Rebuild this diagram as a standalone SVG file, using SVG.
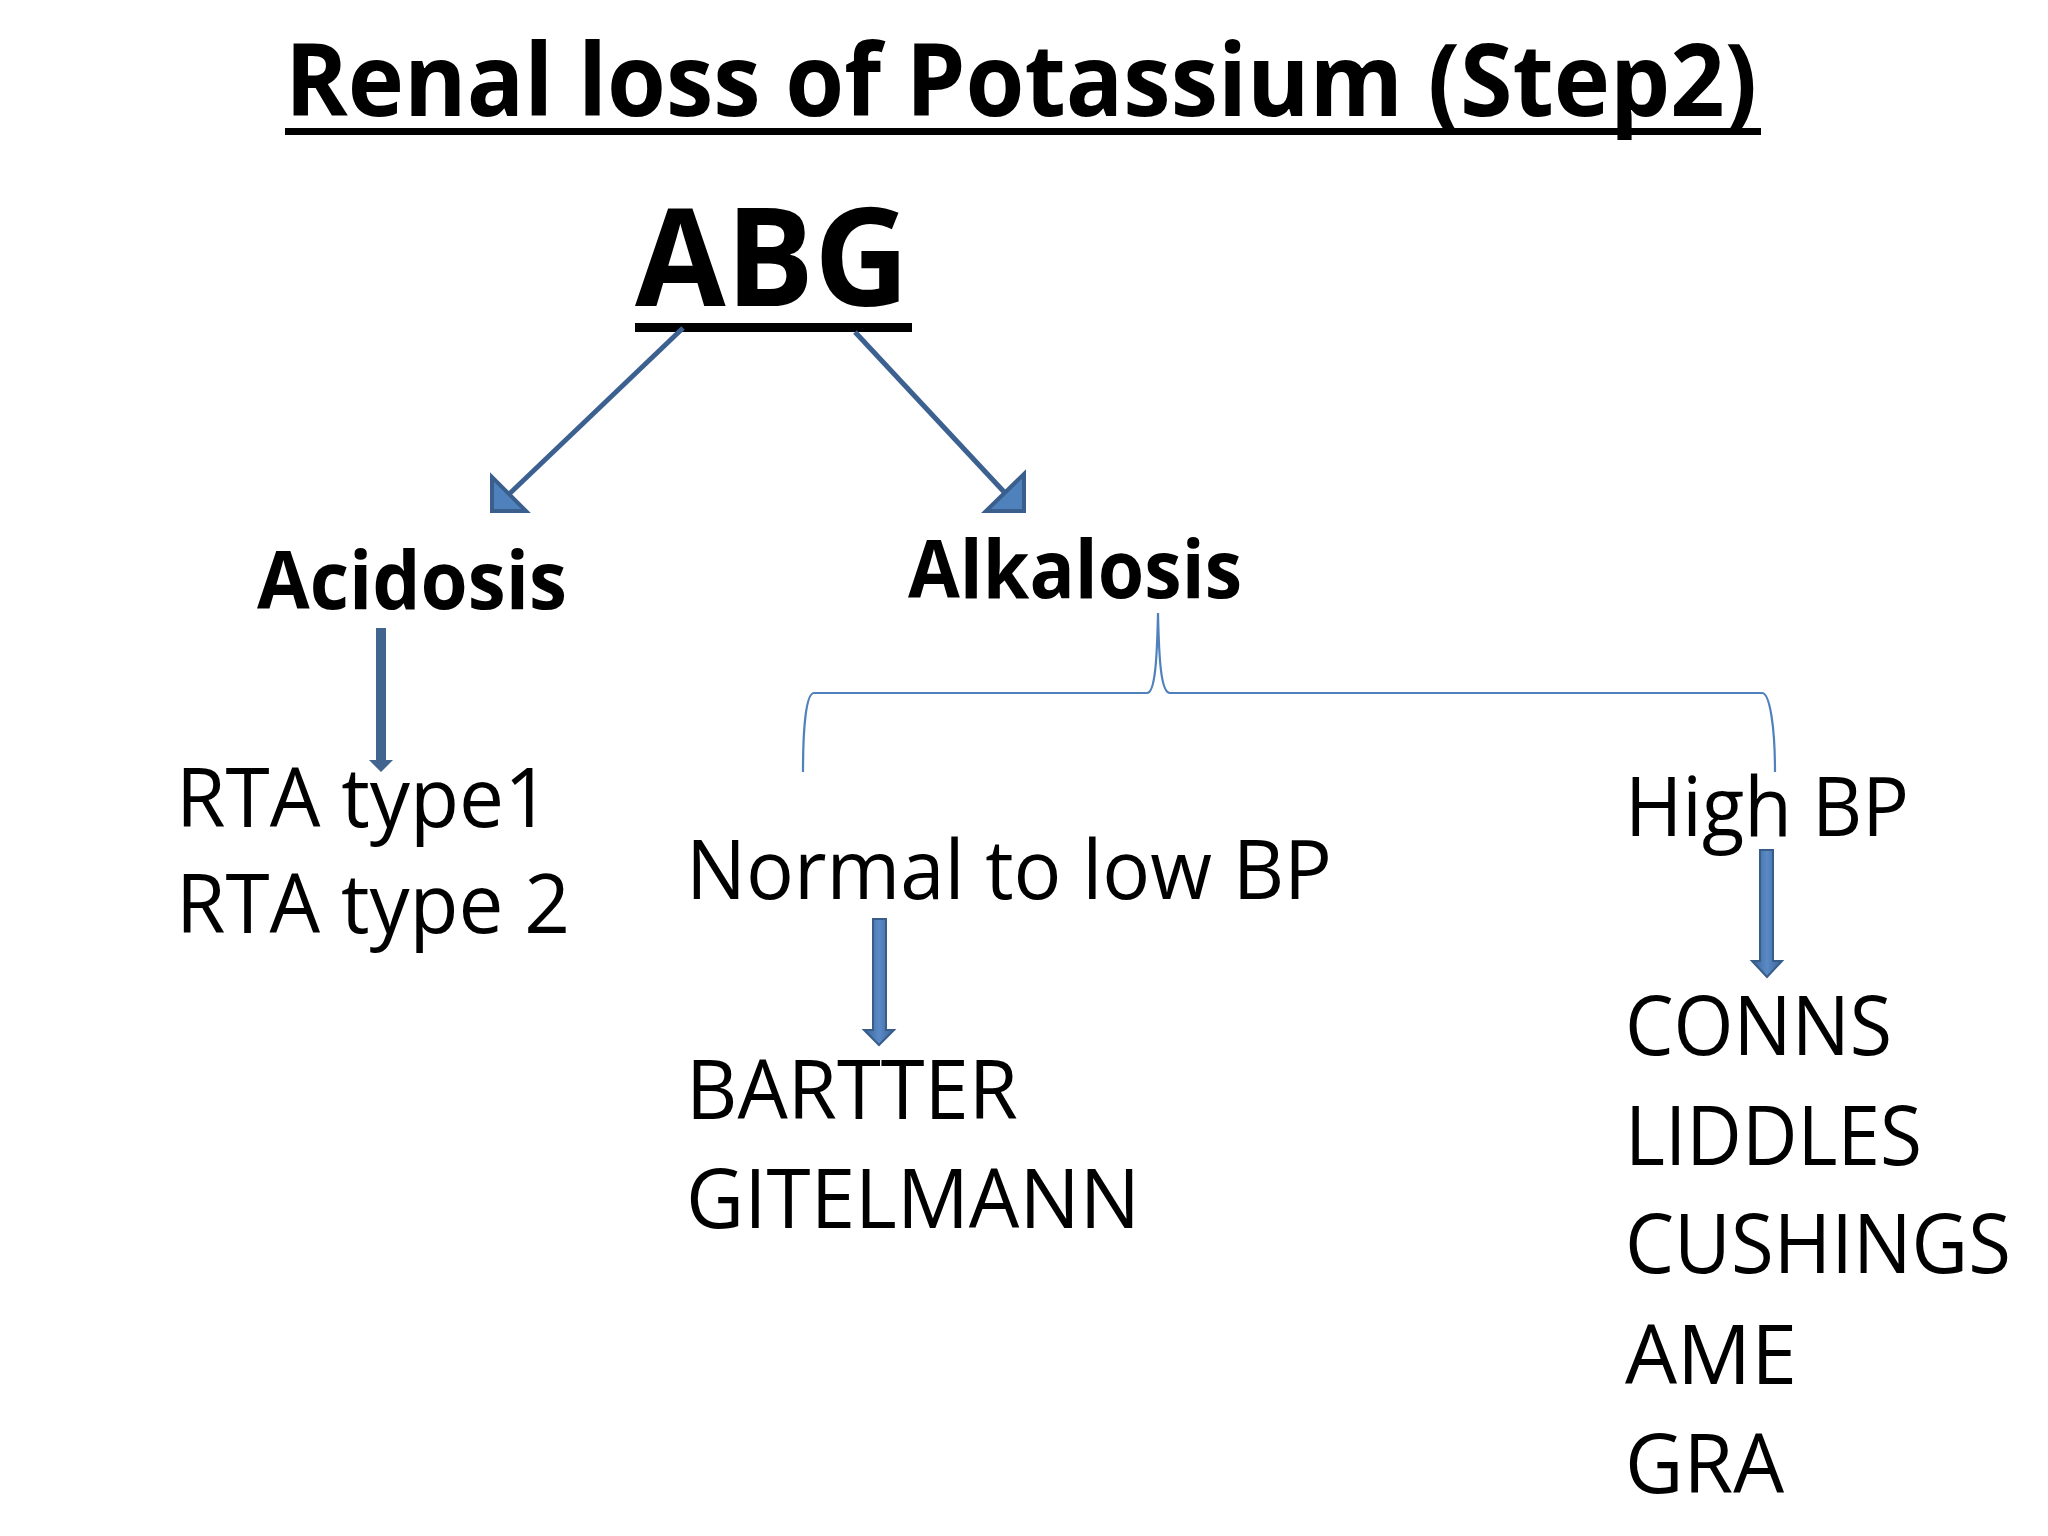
<svg xmlns="http://www.w3.org/2000/svg" width="2048" height="1536" viewBox="0 0 2048 1536">
<style>
text{font-family:"Open Sans","Noto Sans","Liberation Sans",sans-serif;fill:#000}
.b{font-weight:bold}
.r{font-size:82px}
.line{stroke:#3C6190;stroke-width:5;fill:none}
.head{fill:#4F81BD;stroke:#3A5F8C;stroke-width:4;stroke-linejoin:miter}
.brace{stroke:#4F81BD;stroke-width:2.2;fill:none}
.blk{fill:#41658F}
.blk2{fill:url(#g);stroke:#385D8A;stroke-width:2}
</style>
<defs>
<linearGradient id="g" x1="0" y1="0" x2="1" y2="0">
<stop offset="0" stop-color="#3A6296"/>
<stop offset="0.5" stop-color="#5A8AC6"/>
<stop offset="1" stop-color="#3A6296"/>
</linearGradient>
</defs>
<rect width="2048" height="1536" fill="#fff"/>
<g id="title">
<text class="b" x="285" y="116" font-size="100" textLength="1472" lengthAdjust="spacingAndGlyphs">Renal loss of Potassium (Step2)</text>
<rect x="285" y="128" width="1476" height="7" fill="#000"/>
</g>
<g id="abg">
<text class="b" x="635" y="306" font-size="137" textLength="274" lengthAdjust="spacingAndGlyphs">ABG</text>
<rect x="635" y="323" width="277" height="9" fill="#000"/>
</g>
<g id="acidosis"><text class="b" x="257" y="609" font-size="80" textLength="310" lengthAdjust="spacingAndGlyphs">Acidosis</text></g>
<g id="alkalosis"><text class="b" x="908" y="598" font-size="80" textLength="334" lengthAdjust="spacingAndGlyphs">Alkalosis</text></g>
<g id="rta">
<text class="r" x="176" y="827" textLength="374" lengthAdjust="spacingAndGlyphs">RTA type1</text>
<text class="r" x="176" y="933" textLength="394" lengthAdjust="spacingAndGlyphs">RTA type 2</text>
</g>
<g id="normal-bp"><text class="r" x="686" y="899" textLength="646" lengthAdjust="spacingAndGlyphs">Normal to low BP</text></g>
<g id="high-bp"><text class="r" x="1625" y="836" textLength="284" lengthAdjust="spacingAndGlyphs">High BP</text></g>
<g id="normal-causes">
<text class="r" x="686" y="1119" textLength="332" lengthAdjust="spacingAndGlyphs">BARTTER</text>
<text class="r" x="686" y="1228" textLength="454" lengthAdjust="spacingAndGlyphs">GITELMANN</text>
</g>
<g id="high-causes">
<text class="r" x="1625" y="1055" textLength="267" lengthAdjust="spacingAndGlyphs">CONNS</text>
<text class="r" x="1625" y="1165" textLength="297" lengthAdjust="spacingAndGlyphs">LIDDLES</text>
<text class="r" x="1625" y="1273" textLength="386" lengthAdjust="spacingAndGlyphs">CUSHINGS</text>
<text class="r" x="1625" y="1384" textLength="172" lengthAdjust="spacingAndGlyphs">AME</text>
<text class="r" x="1625" y="1493" textLength="159" lengthAdjust="spacingAndGlyphs">GRA</text>
</g>
<g id="connectors">
<line class="line" x1="683" y1="328" x2="505" y2="498"/>
<polygon class="head" points="492,477 492,511 526,511"/>
<line class="line" x1="855" y1="332" x2="1006" y2="494"/>
<polygon class="head" points="1024,474 1024,511 986,511"/>
<path class="blk" d="M376 628 H386 V760 H393 L381 772 L369 760 H376 Z"/>
<path class="brace" d="M803 772 C803 728 806 693 814 693 L1147 693 C1155 693 1157 660 1158 613 C1159 660 1161 693 1170 693 L1762 693 C1770 693 1775 728 1775 772"/>
<path class="blk2" d="M873 919 H886 V1030 H894 L879 1045 L864 1030 H873 Z"/>
<path class="blk2" d="M1760 850 H1773 V961 H1782 L1767 977 L1752 961 H1760 Z"/>
</g>
</svg>
